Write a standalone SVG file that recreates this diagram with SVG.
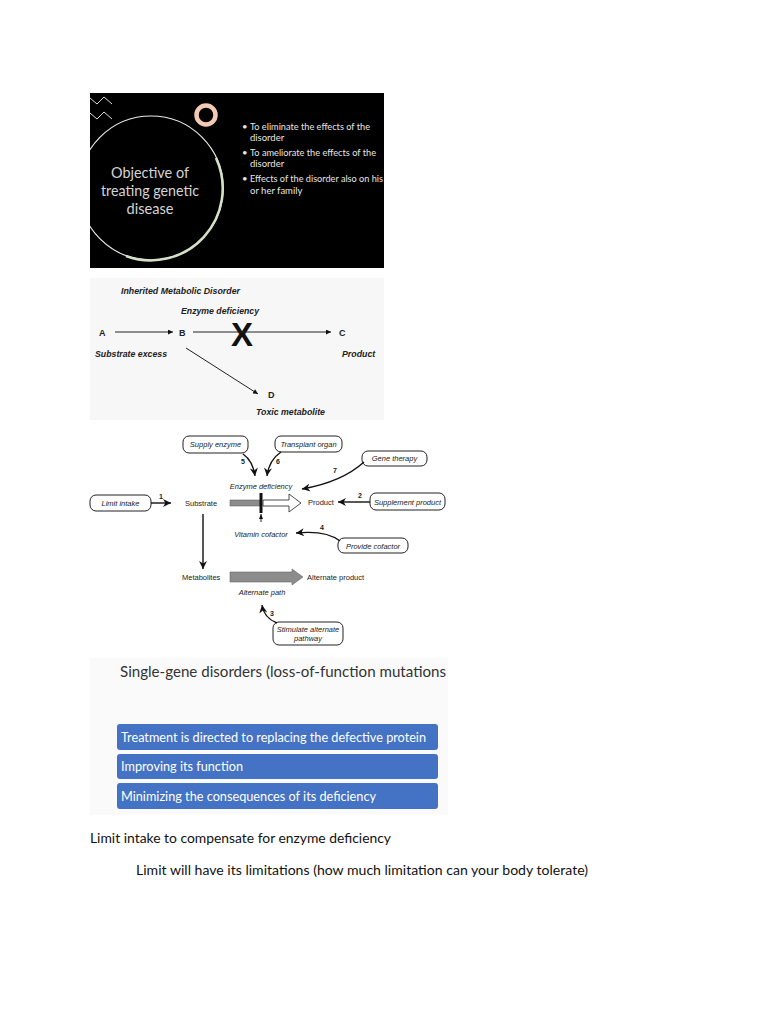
<svg xmlns="http://www.w3.org/2000/svg" width="768" height="1024" viewBox="0 0 768 1024">
<style>
.lato{font-family:Lato,"Open Sans","Liberation Sans",sans-serif}
.bi{font-family:"Liberation Sans",Arial,sans-serif;font-weight:bold;font-style:italic;font-size:8.8px;fill:#222}
.bl{font-family:"Liberation Sans",Arial,sans-serif;font-weight:bold;font-size:9px;fill:#222}
.it{font-family:"Liberation Sans",Arial,sans-serif;font-style:italic;font-size:7.5px;fill:#222}
.rg{font-family:"Liberation Sans",Arial,sans-serif;font-size:7.5px;fill:#222}
.num{font-family:"Liberation Sans",Arial,sans-serif;font-weight:bold;font-size:7px;fill:#222}
.box{fill:#fff;stroke:#222;stroke-width:1}
.ln{fill:none;stroke:#222;stroke-width:1}
.ln2{fill:none;stroke:#111;stroke-width:1.4}
.bul{font-family:Lato,"Open Sans",sans-serif;font-size:9.5px;fill:#e6e6e6}
.ttl{font-family:Lato,"Open Sans",sans-serif;font-size:16px;fill:#d4d4d4}
.blue{fill:#4472c4}
.wt{font-family:Lato,"Open Sans",sans-serif;font-size:12.5px;fill:#fff}
.doc{font-family:Lato,"Open Sans","Liberation Sans",sans-serif;font-size:13px;fill:#111}
</style>
<defs>
<marker id="ah" viewBox="0 0 10 10" refX="10" refY="5" markerWidth="9" markerHeight="8" orient="auto" markerUnits="userSpaceOnUse"><path d="M0,0 L10,5 L0,10 L3,5 z" fill="#111"/></marker>
<marker id="ahs" viewBox="0 0 10 10" refX="10" refY="5" markerWidth="7" markerHeight="5" orient="auto" markerUnits="userSpaceOnUse"><path d="M0,0 L10,5 L0,10 z" fill="#111"/></marker>
<marker id="aho" viewBox="0 0 10 10" refX="10" refY="5" markerWidth="5" markerHeight="5" orient="auto" markerUnits="userSpaceOnUse"><path d="M0,1 L10,5 L0,9 z" fill="#111"/></marker>
<clipPath id="s1"><rect x="90" y="93" width="294" height="175"/></clipPath>
</defs>

<rect width="768" height="1024" fill="#fff"/>

<!-- Slide 1 -->
<g id="slide1">
<rect x="90" y="93" width="294" height="175" fill="#000"/>
<g clip-path="url(#s1)">
<circle cx="151" cy="188" r="72" fill="none" stroke="#e8e8e8" stroke-width="1.2"/>
<path d="M216,158 A72,72 0 0 1 126,256" fill="none" stroke="#d3e2c6" stroke-width="2.6"/>
</g>
<polyline points="90,98 97,104 104,97 112,104" fill="none" stroke="#ddd" stroke-width="1"/>
<polyline points="90,113 97,119 104,112 112,119" fill="none" stroke="#ddd" stroke-width="1"/>
<circle cx="206" cy="115" r="9.5" fill="none" stroke="#f5cab5" stroke-width="4.5"/>
<text class="ttl" x="150" y="178" text-anchor="middle" textLength="78" lengthAdjust="spacingAndGlyphs">Objective of</text>
<text class="ttl" x="150" y="196" text-anchor="middle" textLength="98" lengthAdjust="spacingAndGlyphs">treating genetic</text>
<text class="ttl" x="150" y="214" text-anchor="middle" textLength="47" lengthAdjust="spacingAndGlyphs">disease</text>
<text class="bul" x="242" y="130">•</text>
<text class="bul" x="250" y="130" textLength="120" lengthAdjust="spacingAndGlyphs">To eliminate the effects of the</text>
<text class="bul" x="250" y="141">disorder</text>
<text class="bul" x="242" y="156">•</text>
<text class="bul" x="250" y="156" textLength="126" lengthAdjust="spacingAndGlyphs">To ameliorate the effects of the</text>
<text class="bul" x="250" y="167">disorder</text>
<text class="bul" x="242" y="182">•</text>
<text class="bul" x="250" y="182" textLength="133" lengthAdjust="spacingAndGlyphs">Effects of the disorder also on his</text>
<text class="bul" x="250" y="194">or her family</text>
</g>

<!-- Slide 2: Inherited metabolic disorder -->
<g id="slide2">
<rect x="90" y="278" width="294" height="142" fill="#f7f7f7"/>
<text class="bi" x="121" y="294" textLength="119" lengthAdjust="spacingAndGlyphs">Inherited Metabolic Disorder</text>
<text class="bi" x="181" y="313.5" textLength="78" lengthAdjust="spacingAndGlyphs">Enzyme deficiency</text>
<g id="nodeA"><text class="bl" x="99" y="335.5">A</text></g>
<g id="nodeB"><text class="bl" x="179" y="335.5">B</text></g>
<g id="nodeC"><text class="bl" x="339" y="335.5">C</text></g>
<g id="nodeD"><text class="bl" x="268" y="397.5">D</text></g>
<text class="bi" x="95" y="356.5" textLength="72" lengthAdjust="spacingAndGlyphs">Substrate excess</text>
<text class="bi" x="342" y="356.5">Product</text>
<text class="bi" x="256" y="414.5" textLength="69" lengthAdjust="spacingAndGlyphs">Toxic metabolite</text>
<text x="242" y="346" text-anchor="middle" font-family="Liberation Sans,Arial,sans-serif" font-weight="bold" font-size="33" fill="#111">X</text>
</g>

<!-- Slide 3: Treatment strategies -->
<g id="slide3">
<g id="supply"><rect class="box" x="183" y="436" width="65" height="17" rx="6"/><text class="it" x="215.5" y="447" text-anchor="middle">Supply enzyme</text></g>
<g id="transplant"><rect class="box" x="275" y="436" width="67" height="16" rx="6"/><text class="it" x="308.5" y="447" text-anchor="middle">Transplant organ</text></g>
<g id="gene"><rect class="box" x="362" y="451" width="65" height="15" rx="6"/><text class="it" x="394.5" y="461" text-anchor="middle">Gene therapy</text></g>
<g id="limit"><rect class="box" x="90" y="495" width="61" height="16" rx="6"/><text class="it" x="120.5" y="506" text-anchor="middle">Limit intake</text></g>
<g id="supplement"><rect class="box" x="370" y="493" width="75" height="17" rx="6"/><text class="it" x="407.5" y="504.5" text-anchor="middle">Supplement product</text></g>
<g id="cofactor"><rect class="box" x="338" y="538" width="70" height="15" rx="6"/><text class="it" x="373" y="548.5" text-anchor="middle">Provide cofactor</text></g>
<g id="stimulate"><rect class="box" x="273" y="622" width="70" height="23" rx="6"/><text class="it" x="308" y="631.5" text-anchor="middle">Stimulate alternate</text><text class="it" x="308" y="641" text-anchor="middle">pathway</text></g>
<g id="substrate"><text class="rg" x="185" y="505.5">Substrate</text></g>
<g id="product"><text class="rg" x="308" y="505">Product</text></g>
<g id="metabolites"><text class="rg" x="182" y="580">Metabolites</text></g>
<g id="altproduct"><text class="rg" x="307" y="580">Alternate product</text></g>
<text class="it" x="261" y="489" text-anchor="middle">Enzyme deficiency</text>
<text class="it" x="261" y="536.5" text-anchor="middle">Vitamin cofactor</text>
<text class="it" x="262" y="595" text-anchor="middle">Alternate path</text>
<g id="pathway">
<rect x="230" y="500" width="30" height="6" fill="#8c8c8c" stroke="#555" stroke-width="0.5"/>
<polygon points="263,500 289,500 289,494 301,503 289,512 289,506 263,506" fill="#fff" stroke="#222" stroke-width="0.8"/>
<rect x="259.5" y="493" width="3" height="20" fill="#111"/>
<polygon points="230,572 292,572 292,569 303,577 292,585 292,582 230,582" fill="#8c8c8c" stroke="#666" stroke-width="0.6"/>
</g>
<text class="num" x="241" y="464">5</text>
<text class="num" x="276" y="464">6</text>
<text class="num" x="333" y="473">7</text>
<text class="num" x="159" y="499">1</text>
<text class="num" x="358" y="498">2</text>
<text class="num" x="320" y="530">4</text>
<text class="num" x="270" y="616">3</text>
</g>

<!-- Connectors -->
<g id="connectors">
<line class="ln" x1="115" y1="332" x2="173" y2="332" marker-end="url(#ahs)"/>
<line class="ln" x1="193" y1="332" x2="331" y2="332" marker-end="url(#ahs)"/>
<line class="ln" x1="186" y1="348" x2="258" y2="394" marker-end="url(#ahs)"/>
<path class="ln2" d="M243,454 Q253,461 255,476" marker-end="url(#ah)"/>
<path class="ln2" d="M281,452 Q269,460 267,476" marker-end="url(#ah)"/>
<path class="ln2" d="M364,462 Q342,482 302,489" marker-end="url(#ah)"/>
<line class="ln2" x1="151" y1="503" x2="171" y2="503" marker-end="url(#ah)"/>
<line class="ln2" x1="370" y1="502" x2="338" y2="502" marker-end="url(#ah)"/>
<path class="ln2" d="M340,541 Q326,530 296,533" marker-end="url(#ah)"/>
<path class="ln2" d="M277,623 Q264,618 262,605" marker-end="url(#ah)"/>
<line class="ln" x1="261" y1="522" x2="261" y2="514" marker-end="url(#aho)"/>
<line class="ln2" x1="203" y1="514" x2="203" y2="569" marker-end="url(#ah)"/>
</g>

<!-- Slide 4 -->
<g id="slide4">
<rect x="90" y="658" width="358" height="157" fill="#fafafb"/>
<text class="lato" x="120" y="677" font-size="15" fill="#333" textLength="326" lengthAdjust="spacingAndGlyphs">Single-gene disorders (loss-of-function mutations</text>
<g id="b1"><rect class="blue" x="117" y="724" width="321" height="26" rx="3"/><text class="wt" x="121" y="741.5" textLength="305" lengthAdjust="spacingAndGlyphs">Treatment is directed to replacing the defective protein</text></g>
<g id="b2"><rect class="blue" x="117" y="754" width="321" height="25" rx="3"/><text class="wt" x="121" y="771" textLength="122" lengthAdjust="spacingAndGlyphs">Improving its function</text></g>
<g id="b3"><rect class="blue" x="117" y="783" width="321" height="26" rx="3"/><text class="wt" x="121" y="800.5" textLength="255" lengthAdjust="spacingAndGlyphs">Minimizing the consequences of its deficiency</text></g>
</g>

<!-- Document text -->
<g id="doctext">
<text class="doc" x="90" y="842.5" textLength="301" lengthAdjust="spacingAndGlyphs">Limit intake to compensate for enzyme deficiency</text>
<text class="doc" x="136" y="874.5" textLength="452" lengthAdjust="spacingAndGlyphs">Limit will have its limitations (how much limitation can your body tolerate)</text>
</g>
</svg>
